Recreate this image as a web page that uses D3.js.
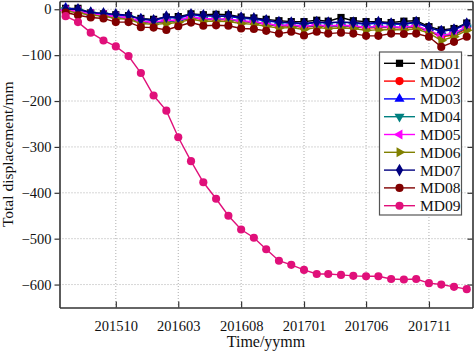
<!DOCTYPE html>
<html>
<head>
<meta charset="utf-8">
<script src="https://cdn.jsdelivr.net/npm/d3@7"></script>
<style>
  body { margin: 0; background: #fff; }
  svg text { font-family: "Liberation Serif", "Times New Roman", serif; fill: #111; }
</style>
</head>
<body>
<svg id="chart" width="474" height="351"></svg>
<script>
// monthly survey dates (yyyymm)
const months = ["201506","201507","201508","201509","201510","201511","201512",
  "201601","201602","201603","201604","201605","201606","201607","201608","201609","201610","201611","201612",
  "201701","201702","201703","201704","201705","201706","201707","201708","201709","201710","201711","201712",
  "201801","201802"];

const tickMonths = ["201510","201603","201608","201701","201706","201711"];
const yTicks = [0, -100, -200, -300, -400, -500, -600];

const names = ["MD01","MD02","MD03","MD04","MD05","MD06","MD07","MD08","MD09"];

// total displacement, mm
const md01 = [2, 2, -8, -10, -12, -14, -20, -22, -17, -16, -10, -12, -11, -12, -17, -19, -22, -25, -27, -27, -24, -26, -18, -25, -27, -27, -29, -26, -25, -38, -45, -42, -30];
const md02 = [-3, -6, -12, -14, -18, -20, -28, -30, -27, -26, -19, -22, -23, -23, -27, -29, -33, -37, -36, -40, -36, -38, -37, -38, -41, -40, -40, -41, -39, -48, -60, -56, -42];
const md03 = [3, -1, -7, -10, -13, -15, -21, -24, -18, -19, -13, -14, -15, -16, -19, -22, -25, -29, -30, -32, -29, -30, -28, -30, -33, -30, -32, -33, -29, -41, -47, -45, -33];
const md04 = [-2, -5, -11, -13, -17, -19, -27, -29, -26, -25, -18, -21, -22, -22, -26, -28, -32, -36, -35, -38, -35, -37, -36, -37, -40, -38, -39, -40, -37, -47, -58, -54, -40];
const md05 = [-2, -4, -10, -12, -16, -18, -26, -28, -24, -24, -17, -20, -21, -21, -25, -27, -31, -35, -34, -37, -34, -36, -35, -36, -39, -37, -38, -39, -36, -46, -57, -52, -38];
const md06 = [-4, -8, -13, -15, -20, -22, -31, -33, -31, -29, -22, -26, -26, -27, -31, -33, -37, -41, -40, -44, -40, -42, -41, -42, -46, -45, -44, -45, -43, -52, -68, -60, -46];
const md07 = [0, 0, -7, -9, -11, -13, -22, -24, -16, -18, -11, -13, -15, -14, -18, -20, -24, -28, -29, -31, -28, -29, -28, -29, -31, -28, -31, -31, -28, -40, -48, -44, -31];
const md08 = [-7, -13, -18, -20, -28, -28, -39, -40, -45, -37, -29, -36, -35, -36, -42, -43, -47, -53, -49, -57, -49, -53, -51, -53, -58, -58, -53, -54, -53, -60, -82, -71, -60];
const md09 = [-15, -28, -51, -68, -81, -102, -139, -188, -221, -279, -331, -377, -413, -450, -480, -498, -523, -548, -557, -568, -577, -577, -579, -581, -582, -582, -588, -589, -588, -597, -600, -605, -610];

const colors = ["#000000","#ff0000","#0000ff","#008080","#ff00ff","#808000","#000080","#800000","#e0107a"];
const shapes = [d3.symbolSquare, d3.symbolCircle, d3.symbolTriangle, "triDown", "triLeft", "triRight", d3.symbolDiamond, d3.symbolCircle, d3.symbolCircle];

const allSeries = [md01, md02, md03, md04, md05, md06, md07, md08, md09];

const svg = d3.select("#chart");
const parse = d3.timeParse("%Y%m");

const pLeft = 59.5, pRight = 472.5, pTop = 1, pBottom = 307.5;

const x = d3.scaleTime()
  .domain([new Date(2015, 4, 17), new Date(2018, 1, 15)])
  .range([pLeft, pRight]);
const y = d3.scaleLinear()
  .domain([-650, 18])
  .range([pBottom, pTop]);

// grid
const grid = svg.append("g").attr("class", "grid");
grid.selectAll("line.gx").data(tickMonths).enter().append("line")
  .attr("x1", d => x(parse(d))).attr("x2", d => x(parse(d)))
  .attr("y1", pTop).attr("y2", pBottom)
  .attr("stroke", "#9a9a9a").attr("stroke-width", 0.8).attr("stroke-dasharray", "1,2");
grid.selectAll("line.gy").data(yTicks).enter().append("line")
  .attr("x1", pLeft).attr("x2", pRight)
  .attr("y1", d => y(d)).attr("y2", d => y(d))
  .attr("stroke", "#9a9a9a").attr("stroke-width", 0.8).attr("stroke-dasharray", "1,2");

// axes
const xAxis = svg.append("g")
  .attr("transform", "translate(0," + pBottom + ")")
  .call(d3.axisBottom(x).tickValues(tickMonths.map(parse)).tickFormat(d3.timeFormat("%Y%m"))
          .tickSizeInner(-6).tickSizeOuter(0).tickPadding(13));
const yAxis = svg.append("g")
  .attr("transform", "translate(" + pLeft + ",0)")
  .call(d3.axisLeft(y).tickValues(yTicks).tickSizeInner(5).tickSizeOuter(0).tickPadding(3));
const xTop = svg.append("g")
  .attr("transform", "translate(0," + pTop + ")")
  .call(d3.axisTop(x).tickValues(tickMonths.map(parse)).tickFormat("").tickSizeInner(-6).tickSizeOuter(0));
const yRight = svg.append("g")
  .attr("transform", "translate(" + pRight + ",0)")
  .call(d3.axisRight(y).tickValues(yTicks).tickFormat("").tickSizeInner(-5).tickSizeOuter(0));

[xAxis, yAxis, xTop, yRight].forEach(function(g) {
  g.select(".domain").attr("stroke", "#333").attr("stroke-width", 1.6);
  g.selectAll(".tick line").attr("stroke", "#333").attr("stroke-width", 1.2);
  g.selectAll("text").style("font-family", "Liberation Serif").style("font-size", "14.5px").attr("fill", "#111");
});

// axis titles
svg.append("text")
  .attr("x", (pLeft + pRight) / 2).attr("y", 347)
  .attr("text-anchor", "middle").style("font-size", "16px")
  .text("Time/yymm");
svg.append("text")
  .attr("transform", "translate(13," + ((pTop + pBottom) / 2) + ") rotate(-90)")
  .attr("text-anchor", "middle").style("font-size", "15.5px")
  .text("Total displacement/mm");

// marker helpers
function markerPath(shape, size) {
  if (shape === "triDown" || shape === "triLeft" || shape === "triRight") {
    return d3.symbol(d3.symbolTriangle, size)();
  }
  return d3.symbol(shape, size)();
}
function markerRot(shape) {
  if (shape === "triDown") return 180;
  if (shape === "triLeft") return -90;
  if (shape === "triRight") return 90;
  return 0;
}
function markerSize(shape) {
  if (shape === d3.symbolSquare) return 52;
  if (shape === d3.symbolDiamond) return 46;
  if (shape === d3.symbolCircle) return 52;
  return 44;
}

const line = d3.line()
  .x((d, i) => x(parse(months[i])))
  .y(d => y(d));

const plot = svg.append("g").attr("class", "series");
allSeries.forEach(function(vals, k) {
  const g = plot.append("g");
  g.append("path")
    .datum(vals)
    .attr("d", line)
    .attr("fill", "none")
    .attr("stroke", colors[k])
    .attr("stroke-width", 1.4);
  g.selectAll("path.mk").data(vals).enter().append("path")
    .attr("class", "mk")
    .attr("d", markerPath(shapes[k], markerSize(shapes[k])))
    .attr("transform", (d, i) => "translate(" + x(parse(months[i])) + "," + y(d) + ") rotate(" + markerRot(shapes[k]) + ")")
    .attr("fill", colors[k]);
});

// legend
const lg = svg.append("g").attr("class", "legend");
lg.append("rect")
  .attr("x", 379.5).attr("y", 52).attr("width", 82).attr("height", 163)
  .attr("fill", "#fff").attr("stroke", "#555").attr("stroke-width", 1.2);
const item = lg.selectAll("g.item").data(names).enter().append("g")
  .attr("transform", (d, i) => "translate(0," + (63.3 + i * 17.8) + ")");
item.append("line")
  .attr("x1", 384).attr("x2", 415).attr("y1", 0).attr("y2", 0)
  .attr("stroke", (d, i) => colors[i]).attr("stroke-width", 1.4);
item.append("path")
  .attr("d", (d, i) => markerPath(shapes[i], markerSize(shapes[i])))
  .attr("transform", (d, i) => "translate(399.5,0) rotate(" + markerRot(shapes[i]) + ")")
  .attr("fill", (d, i) => colors[i]);
item.append("text")
  .attr("x", 420).attr("y", 5.5)
  .style("font-size", "15.5px")
  .text(d => d);
</script>
</body>
</html>
